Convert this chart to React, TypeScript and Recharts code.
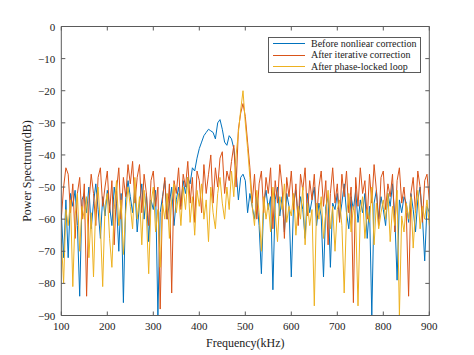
import React from 'react';
import { LineChart, Line, XAxis, YAxis, Legend, ReferenceLine, Label } from 'recharts';

// Frequency grid (kHz)
const freqKHz = [
  100, 105, 110, 115, 120, 125, 130, 135, 140, 145,
  150, 155, 160, 165, 170, 175, 180, 185, 190, 195,
  200, 205, 210, 215, 220, 225, 230, 235, 240, 245,
  250, 255, 260, 265, 270, 275, 280, 285, 290, 295,
  300, 305, 310, 315, 320, 325, 330, 335, 340, 345,
  350, 355, 360, 365, 370, 375, 380, 385, 390, 395,
  400, 405, 410, 415, 420, 425, 430, 435, 440, 445,
  450, 455, 460, 465, 470, 475, 480, 485, 490, 495,
  500, 505, 510, 515, 520, 525, 530, 535, 540, 545,
  550, 555, 560, 565, 570, 575, 580, 585, 590, 595,
  600, 605, 610, 615, 620, 625, 630, 635, 640, 645,
  650, 655, 660, 665, 670, 675, 680, 685, 690, 695,
  700, 705, 710, 715, 720, 725, 730, 735, 740, 745,
  750, 755, 760, 765, 770, 775, 780, 785, 790, 795,
  800, 805, 810, 815, 820, 825, 830, 835, 840, 845,
  850, 855, 860, 865, 870, 875, 880, 885, 890, 895,
  900,
];

// Before nonlinear correction (dB)
const beforeNonlinear = [
  -58, -72, -54, -72, -52, -56, -51, -62, -84, -54,
  -52, -58, -50, -63, -55, -49, -57, -66, -53, -59,
  -51, -56, -62, -50, -55, -70, -52, -86, -54, -48,
  -53, -58, -50, -64, -55, -49, -60, -52, -67, -54,
  -57, -51, -90, -58, -53, -48, -60, -55, -50, -62,
  -54, -50, -56, -48, -52, -47, -49, -44, -45, -41,
  -38, -36, -34, -33, -32, -32.5, -33, -35, -30, -29,
  -32, -36, -37, -34, -35, -38, -45, -54, -47, -46,
  -48, -58, -52, -56, -60, -53, -62, -77, -55, -51,
  -57, -53, -82, -54, -50, -59, -53, -64, -52, -56,
  -78, -55, -51, -60, -53, -57, -66, -52, -58, -54,
  -50, -62, -55, -59, -78, -56, -53, -75, -55, -57,
  -52, -60, -55, -49, -58, -63, -53, -57, -51, -61,
  -54, -58, -52, -66, -56, -90, -55, -51, -60, -53,
  -57, -62, -52, -56, -49, -59, -79, -54, -58, -53,
  -55, -61, -52, -57, -64, -54, -50, -59, -73, -56,
  -58,
];

// After iterative correction (dB)
const afterIterative = [
  -60, -50, -44, -46, -58, -49, -66, -52, -47, -60,
  -49, -84, -55, -46, -52, -62, -47, -44, -56, -50,
  -45, -58, -48, -68, -51, -44, -60, -47, -53, -43,
  -49, -42, -55, -47, -43, -58, -46, -52, -62, -48,
  -45, -56, -50, -88, -54, -47, -60, -49, -83, -48,
  -52, -44, -57, -46, -50, -42, -55, -47, -61, -45,
  -48, -58, -43, -52, -46, -40, -55, -44, -50, -41,
  -39, -52, -45, -48, -42, -37, -50, -32, -27, -24,
  -28, -36, -44, -55, -46, -60, -49, -45, -58, -47,
  -52, -44, -63, -48, -55, -43, -50, -66, -47, -53,
  -45, -57, -49, -62, -46, -51, -44, -59, -48, -54,
  -46, -60, -50, -45, -56, -48, -68, -52, -44, -55,
  -49, -61, -46, -53, -45, -58, -50, -86, -47, -56,
  -44, -52, -48, -60, -46, -55, -43, -51, -62, -47,
  -45, -57, -49, -53, -46, -64, -48, -44, -55, -50,
  -58, -84, -52, -47, -58, -45, -50, -61, -48, -46,
  -54,
];

// After phase-locked loop (dB)
const afterPLL = [
  -66, -80, -57, -62, -54, -81, -59, -52, -70, -56,
  -60, -53, -72, -58, -78, -55, -50, -62, -81, -56,
  -52, -66, -75, -57, -48, -62, -54, -71, -58, -50,
  -56, -63, -47, -60, -53, -68, -51, -59, -77, -55,
  -50, -64, -57, -75, -55, -60, -52, -66, -54, -49,
  -58, -52, -62, -50, -57, -47, -61, -53, -65, -51,
  -56, -49, -60, -54, -67, -50, -58, -63, -52, -47,
  -55, -60, -50, -57, -45, -53, -40, -33, -26, -20,
  -30, -38, -47, -56, -62, -51, -58, -70, -53, -60,
  -55, -64, -50, -58, -67, -53, -57, -49, -61, -56,
  -59, -52, -65, -56, -60, -50, -68, -55, -62, -57,
  -87, -55, -60, -53, -66, -58, -51, -63, -56, -70,
  -57, -54, -62, -83, -59, -52, -64, -56, -60, -87,
  -58, -53, -66, -57, -61, -50, -68, -55, -63, -58,
  -54, -60, -52, -67, -56, -62, -51, -90, -59, -64,
  -55, -60, -53, -69, -57, -51, -63, -56, -60, -54,
  -62,
];

const seriesKeys = ['before', 'iter', 'pll'];
const seriesNames = [
  'Before nonliear correction',
  'After iterative correction',
  'After phase-locked loop',
];
const seriesColors = ['#0072BD', '#D95319', '#EDB120'];

const xTicks = [100, 200, 300, 400, 500, 600, 700, 800, 900];
const yTicks = [0, -10, -20, -30, -40, -50, -60, -70, -80, -90];

const data = freqKHz.map((f, i) => ({
  f,
  before: beforeNonlinear[i],
  iter: afterIterative[i],
  pll: afterPLL[i],
}));

const W = 474;
const H = 355;
const YAW = 40;
const XAH = 30;
const M = { top: 26.5, right: 44.7, bottom: 39.5 - XAH, left: 61.3 - YAW };
const PW = W - 61.3 - M.right;
const PH = H - M.top - 39.5;
const AX = '#5a5a5a';
const TXT = '#222';
const FONT = '"Liberation Serif", "Times New Roman", serif';
const TL = 4;

const fmt = (v: number) => (v < 0 ? '\u2212' + Math.abs(v) : String(v));

const BottomTick = (props: any) => {
  const { x, y, payload } = props;
  return (
    <g>
      <line x1={x} y1={y} x2={x} y2={y - TL} stroke={AX} strokeWidth={1} />
      <line x1={x} y1={y - PH} x2={x} y2={y - PH + TL} stroke={AX} strokeWidth={1} />
      <text x={x} y={y + 14.5} textAnchor="middle" fontSize={11} fontFamily={FONT} fill={TXT}>
        {payload.value}
      </text>
    </g>
  );
};

const LeftTick = (props: any) => {
  const { x, y, payload } = props;
  return (
    <g>
      <line x1={x} y1={y} x2={x + TL} y2={y} stroke={AX} strokeWidth={1} />
      <line x1={x + PW} y1={y} x2={x + PW - TL} y2={y} stroke={AX} strokeWidth={1} />
      <text x={x - 6} y={y} textAnchor="end" dominantBaseline="central" fontSize={11} fontFamily={FONT} fill={TXT}>
        {fmt(payload.value)}
      </text>
    </g>
  );
};

const LegendBox = () => {
  return (
    <div
      style={{
        border: `1px solid ${AX}`,
        background: '#fff',
        width: 151,
        height: 34,
        fontFamily: FONT,
        fontSize: 10,
        color: TXT,
        boxSizing: 'content-box',
      }}
    >
      {seriesNames.map((name, i) => (
        <div key={i} style={{ display: 'flex', alignItems: 'center', height: 11.4, lineHeight: '11.4px', whiteSpace: 'nowrap' }}>
          <svg width={42} height={11} style={{ display: 'block' }}>
            <line x1={4} y1={5.5} x2={36} y2={5.5} stroke={seriesColors[i]} strokeWidth={1} />
          </svg>
          <span>{name}</span>
        </div>
      ))}
    </div>
  );
};

export default function App() {
  return (
    <div style={{ position: 'absolute', left: 0, top: 0, background: '#fff' }}>
      <LineChart width={W} height={H} data={data} margin={M}>
        <XAxis
          dataKey="f"
          type="number"
          domain={[100, 900]}
          ticks={xTicks}
          height={XAH}
          tickSize={0}
          tickMargin={0}
          tickLine={false}
          tick={<BottomTick />}
          axisLine={{ stroke: AX, strokeWidth: 1 }}
          allowDataOverflow
        >
          <Label
            content={(p: any) => {
              const vb = p.viewBox || {};
              return (
                <text x={vb.x + vb.width / 2} y={vb.y + 31.5} textAnchor="middle" fontSize={12} fontFamily={FONT} fill={TXT}>
                  Frequency(kHz)
                </text>
              );
            }}
          />
        </XAxis>
        <YAxis
          type="number"
          domain={[-90, 0]}
          ticks={yTicks}
          width={YAW}
          tickSize={0}
          tickMargin={0}
          tickLine={false}
          tick={<LeftTick />}
          axisLine={{ stroke: AX, strokeWidth: 1 }}
          allowDataOverflow
        >
          <Label
            content={(p: any) => {
              const vb = p.viewBox || {};
              const cx = vb.x + vb.width - 34;
              const cy = vb.y + vb.height / 2;
              return (
                <text
                  x={cx}
                  y={cy}
                  transform={`rotate(-90 ${cx} ${cy})`}
                  textAnchor="middle"
                  dominantBaseline="central"
                  fontSize={12}
                  fontFamily={FONT}
                  fill={TXT}
                >
                  Power Spectrum(dB)
                </text>
              );
            }}
          />
        </YAxis>
        <ReferenceLine y={0} stroke={AX} strokeWidth={1} />
        <ReferenceLine x={900} stroke={AX} strokeWidth={1} />
        {seriesKeys.map((k, i) => (
          <Line
            key={k}
            dataKey={k}
            name={seriesNames[i]}
            stroke={seriesColors[i]}
            strokeWidth={1}
            dot={false}
            isAnimationActive={false}
          />
        ))}
        <Legend
          layout="vertical"
          align="center"
          verticalAlign="middle"
          content={<LegendBox />}
          wrapperStyle={{ position: 'absolute', left: 268, top: 37, width: 153, height: 36 }}
        />
      </LineChart>
    </div>
  );
}
